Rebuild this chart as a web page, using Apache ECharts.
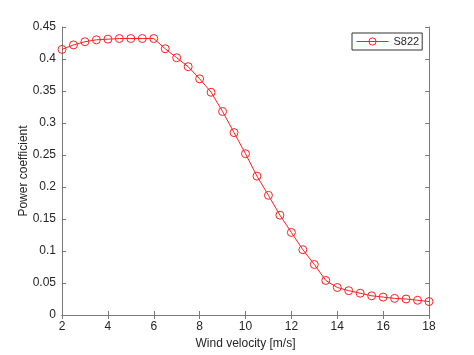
<!DOCTYPE html>
<html>
<head>
<meta charset="utf-8">
<script src="https://cdn.jsdelivr.net/npm/echarts@6/dist/echarts.min.js"></script>
<style>html,body{margin:0;padding:0;background:#fff}#c{width:474px;height:355px}</style>
</head>
<body>
<div id="c"></div>
<script>
const windVelocity = [2,2.5,3,3.5,4,4.5,5,5.5,6,6.5,7,7.5,8,8.5,9,9.5,10,10.5,11,11.5,12,12.5,13,13.5,14,14.5,15,15.5,16,16.5,17,17.5,18];
const powerCoefficient = [0.415,0.422,0.427,0.430,0.431,0.432,0.432,0.432,0.432,0.416,0.402,0.388,0.369,0.348,0.318,0.285,0.252,0.217,0.187,0.156,0.129,0.102,0.079,0.054,0.043,0.038,0.034,0.030,0.028,0.026,0.025,0.023,0.021];
const seriesName = 'S822';
const xLabel = 'Wind velocity [m/s]';
const yLabel = 'Power coefficient';

const axisCol = '#7a7a7a';
const textCol = '#262626';
const font = 'Liberation Sans, Arial, Helvetica, sans-serif';
const chart = echarts.init(document.getElementById('c'));
const common = {
  axisLine: {show: true, lineStyle: {color: axisCol, width: 1}},
  axisTick: {show: true, inside: true, length: 4, lineStyle: {color: axisCol}},
  splitLine: {show: false}
};
chart.setOption({
  animation: false,
  backgroundColor: '#fff',
  grid: {left: 62, right: 45, top: 27, bottom: 40},
  legend: {
    data: [seriesName], left: 352, top: 33,
    borderColor: '#333', borderWidth: 1, borderRadius: 0,
    padding: [3, 3, 3, 4], itemWidth: 32, itemHeight: 9, itemGap: 4,
    lineStyle: {width: 1},
    itemStyle: {borderWidth: 1},
    textStyle: {color: textCol, fontSize: 11, fontFamily: font}
  },
  xAxis: [
    Object.assign({type: 'value', min: 2, max: 18, interval: 2,
      name: xLabel, nameLocation: 'middle', nameGap: 22,
      nameTextStyle: {color: textCol, fontSize: 12, fontFamily: font},
      axisLabel: {color: textCol, fontSize: 12, fontFamily: font, margin: 6}}, common),
    Object.assign({type: 'value', min: 2, max: 18, interval: 2, position: 'top',
      axisLabel: {show: false}}, common)
  ],
  yAxis: [
    Object.assign({type: 'value', min: 0, max: 0.45, interval: 0.05,
      name: yLabel, nameLocation: 'middle', nameGap: 32, nameMoveOverlap: false,
      nameTextStyle: {color: textCol, fontSize: 12, fontFamily: font},
      axisLabel: {color: textCol, fontSize: 12, fontFamily: font, margin: 6,
        formatter: v => String(parseFloat(v.toFixed(2)))}}, common),
    Object.assign({type: 'value', min: 0, max: 0.45, interval: 0.05, position: 'right',
      axisLabel: {show: false}}, common)
  ],
  series: [{
    name: seriesName, type: 'line',
    data: windVelocity.map((x, i) => [x, powerCoefficient[i]]),
    symbol: 'circle', symbolSize: 8, showSymbol: true,
    lineStyle: {color: '#ff2020', width: 1},
    itemStyle: {color: 'rgba(255,255,255,0)', borderColor: '#ff2020', borderWidth: 1},
    emphasis: {disabled: true}
  }]
});
</script>
</body>
</html>
